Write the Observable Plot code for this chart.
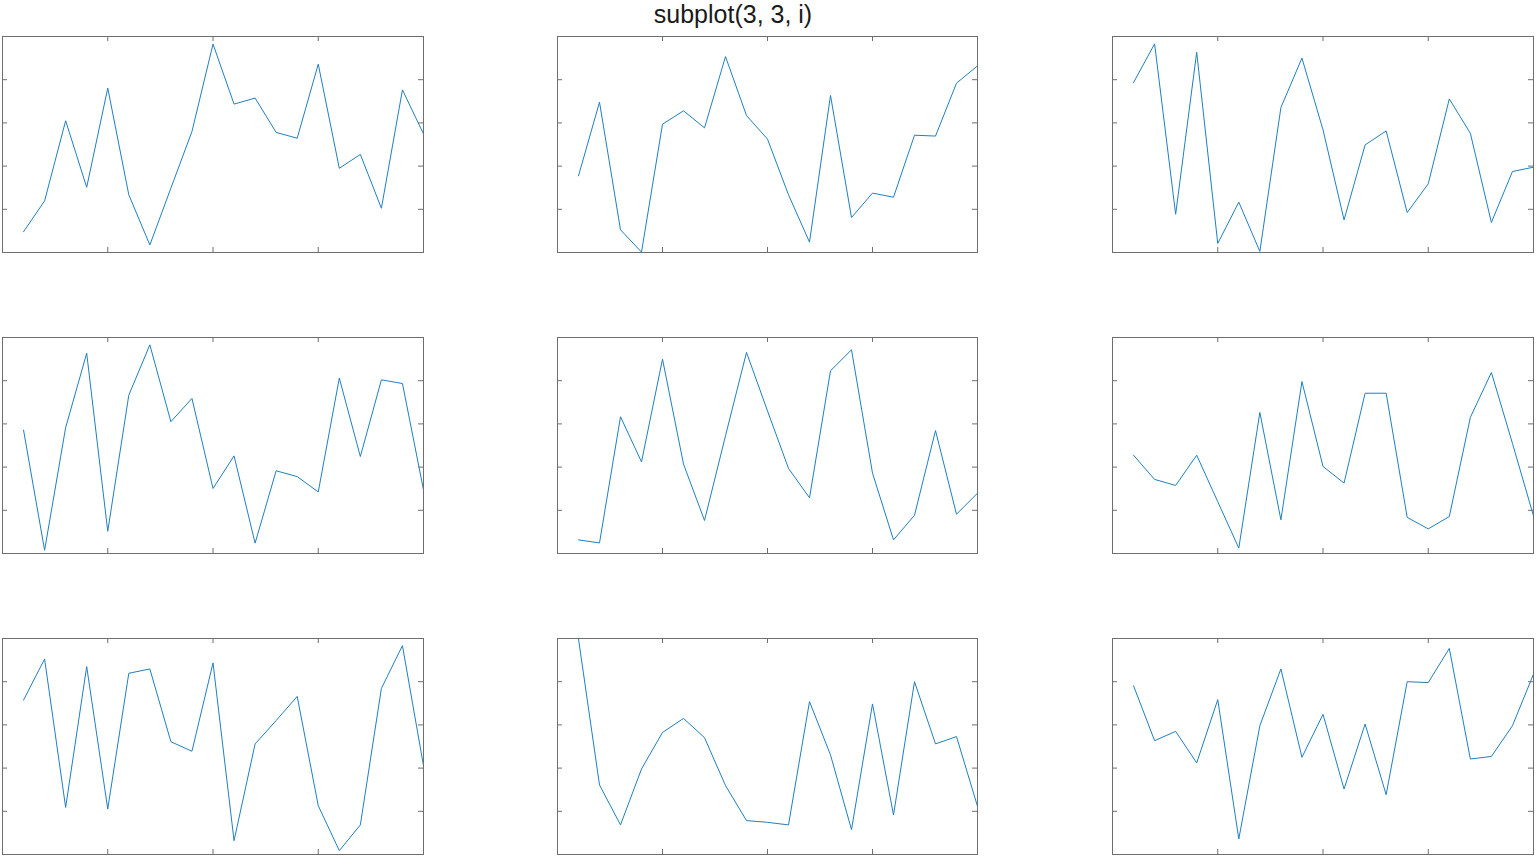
<!DOCTYPE html>
<html>
<head>
<meta charset="utf-8">
<script src="https://cdn.jsdelivr.net/npm/d3@7"></script>
<script src="https://cdn.jsdelivr.net/npm/@observablehq/plot@0.6"></script>
<style>
  html, body { margin: 0; padding: 0; background: #fff; }
  body { width: 1536px; height: 857px; position: relative; overflow: hidden; font-family: "Liberation Sans", Arial, sans-serif; }
  #title { position: absolute; left: 0; width: 1466px; top: 0px; text-align: center; font-size: 25px; line-height: 28px; color: #1a1a1a; }
  .panel { position: absolute; }
</style>
</head>
<body>
<div id="title">subplot(3, 3, i)</div>
<script>
const titleText = "subplot(3, 3, i)";
const xIndex = [1,2,3,4,5,6,7,8,9,10,11,12,13,14,15,16,17,18,19,20];
const xTicks = [0,5,10,15,20];
const yTicks = [0,0.2,0.4,0.6,0.8,1];

const series1 = [0.096,0.239,0.610,0.302,0.761,0.267,0.035,0.298,0.560,0.965,0.687,0.715,0.556,0.529,0.872,0.390,0.454,0.205,0.753,0.549];
const series2 = [0.355,0.696,0.105,0.002,0.594,0.656,0.577,0.907,0.634,0.525,0.267,0.048,0.727,0.162,0.275,0.256,0.543,0.539,0.784,0.864];
const series3 = [0.787,0.966,0.177,0.927,0.042,0.233,0.005,0.671,0.900,0.568,0.151,0.498,0.563,0.185,0.318,0.711,0.552,0.139,0.375,0.395];
const series4 = [0.571,0.015,0.583,0.927,0.103,0.733,0.966,0.610,0.718,0.301,0.452,0.048,0.383,0.356,0.285,0.812,0.449,0.804,0.787,0.295];
const series5 = [0.063,0.049,0.633,0.424,0.900,0.414,0.153,0.545,0.931,0.660,0.394,0.258,0.846,0.943,0.372,0.063,0.177,0.569,0.182,0.279];
const series6 = [0.455,0.343,0.315,0.455,0.240,0.025,0.653,0.156,0.796,0.403,0.326,0.742,0.742,0.167,0.114,0.171,0.630,0.838,0.510,0.174];
const series7 = [0.715,0.905,0.218,0.870,0.211,0.839,0.859,0.522,0.478,0.887,0.064,0.512,0.620,0.732,0.226,0.018,0.137,0.769,0.967,0.411];
const series8 = [0.998,0.322,0.137,0.396,0.565,0.630,0.541,0.319,0.157,0.149,0.137,0.708,0.461,0.115,0.697,0.183,0.800,0.512,0.546,0.223];
const series9 = [0.781,0.527,0.570,0.424,0.717,0.072,0.596,0.859,0.450,0.649,0.303,0.604,0.277,0.800,0.796,0.954,0.442,0.454,0.596,0.835];

const allSeries = [series1, series2, series3, series4, series5, series6, series7, series8, series9];

document.getElementById("title").textContent = titleText;

// layout (frame positions in page pixels)
const colLeft = [2, 557, 1112];
const colWidth = [421, 420, 421];
const rowTop = [36, 337, 638];
const frameH = 216;
const m = 1;
const tickLen = 5;
const axisColor = "#6e6e6e";
const lineColor = "#1f7fc0";

allSeries.forEach((vals, i) => {
  const r = Math.floor(i / 3), c = i % 3;
  const fw = colWidth[c];
  const data = xIndex.map((x, k) => ({x, y: vals[k]}));
  const innerW = fw, innerH = frameH;
  const chart = Plot.plot({
    width: fw + 2*m,
    height: frameH + 2*m,
    marginTop: m, marginBottom: m, marginLeft: m, marginRight: m,
    x: {domain: [0, 20], axis: null},
    y: {domain: [0, 1], axis: null},
    style: {background: "transparent", overflow: "visible"},
    marks: [
      Plot.line(data, {x: "x", y: "y", stroke: lineColor, strokeWidth: 1}),
      // bottom & top x ticks (inward)
      Plot.ruleX(xTicks, {x: d => d, insetTop: innerH - tickLen, stroke: axisColor, strokeWidth: 1}),
      Plot.ruleX(xTicks, {x: d => d, insetBottom: innerH - tickLen, stroke: axisColor, strokeWidth: 1}),
      // left & right y ticks (inward)
      Plot.ruleY(yTicks, {y: d => d, insetRight: innerW - tickLen, stroke: axisColor, strokeWidth: 1}),
      Plot.ruleY(yTicks, {y: d => d, insetLeft: innerW - tickLen, stroke: axisColor, strokeWidth: 1}),
      Plot.frame({stroke: axisColor, strokeWidth: 1})
    ]
  });
  chart.classList.add("panel");
  chart.style.left = (colLeft[c] - m) + "px";
  chart.style.top = (rowTop[r] - m) + "px";
  document.body.appendChild(chart);
});
</script>
</body>
</html>
